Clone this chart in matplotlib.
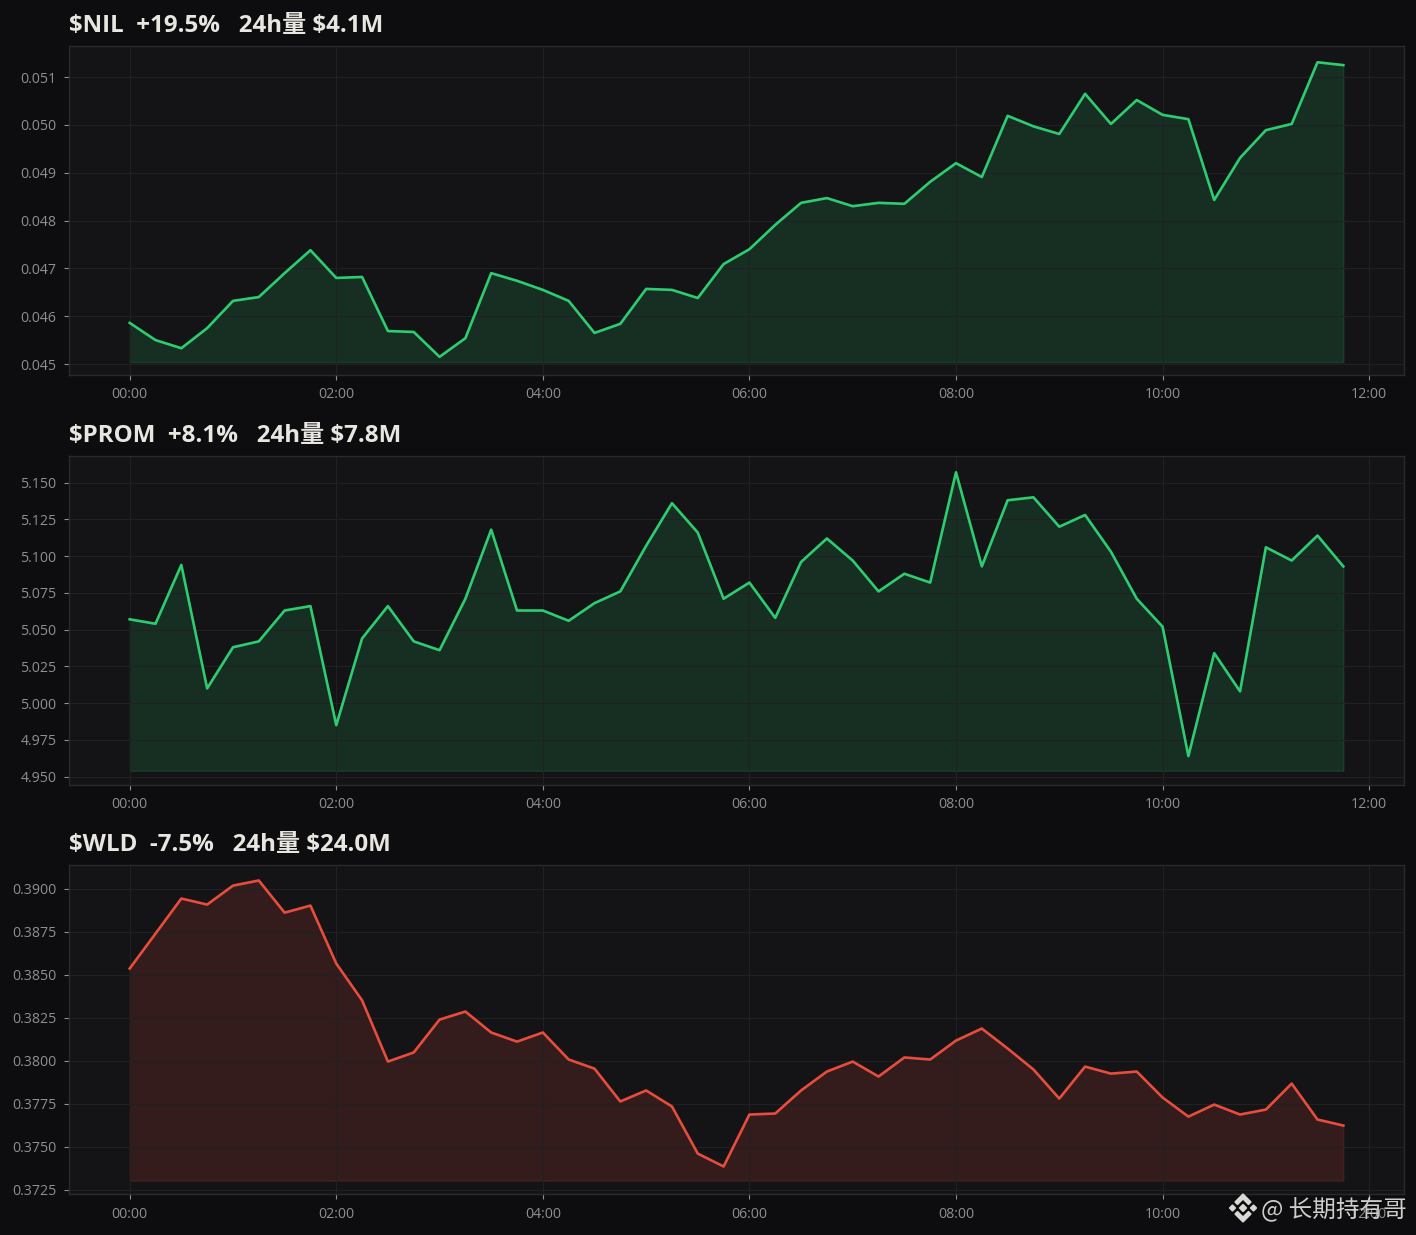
import matplotlib
matplotlib.use("Agg")
import matplotlib.pyplot as plt
from matplotlib.patches import Polygon

plt.rcParams['font.family'] = ['Open Sans', 'Noto Sans CJK SC', 'DejaVu Sans']

# 15 minute steps, 00:00 to 11:45
hours = [i * 0.25 for i in range(48)]
x_ticks = [0, 2, 4, 6, 8, 10, 12]
x_labels = ["00:00", "02:00", "04:00", "06:00", "08:00", "10:00", "12:00"]

nil_title = "$NIL  +19.5%   24h量 $4.1M"
nil_prices = [0.04586, 0.04550, 0.04533, 0.04575, 0.04632, 0.04640, 0.04690, 0.04738,
              0.04680, 0.04682, 0.04569, 0.04567, 0.04515, 0.04554, 0.04690, 0.04674,
              0.04655, 0.04632, 0.04565, 0.04584, 0.04657, 0.04655, 0.04638, 0.04709,
              0.04740, 0.04791, 0.04837, 0.04847, 0.04830, 0.04837, 0.04835, 0.04881,
              0.04920, 0.04891, 0.05019, 0.04997, 0.04981, 0.05065, 0.05002, 0.05052,
              0.05021, 0.05012, 0.04843, 0.04931, 0.04989, 0.05002, 0.05131, 0.05125]
nil_base = 0.04504
nil_ticks = [0.045, 0.046, 0.047, 0.048, 0.049, 0.050, 0.051]
nil_labels = ["0.045", "0.046", "0.047", "0.048", "0.049", "0.050", "0.051"]
nil_ylim = (0.04477, 0.05165)

prom_title = "$PROM  +8.1%   24h量 $7.8M"
prom_prices = [5.057, 5.054, 5.094, 5.010, 5.038, 5.042, 5.063, 5.066, 4.985, 5.044,
               5.066, 5.042, 5.036, 5.071, 5.118, 5.063, 5.063, 5.056, 5.068, 5.076,
               5.107, 5.136, 5.116, 5.071, 5.082, 5.058, 5.096, 5.112, 5.097, 5.076,
               5.088, 5.082, 5.157, 5.093, 5.138, 5.140, 5.120, 5.128, 5.103, 5.071,
               5.052, 4.964, 5.034, 5.008, 5.106, 5.097, 5.114, 5.093]
prom_base = 4.954
prom_ticks = [4.950, 4.975, 5.000, 5.025, 5.050, 5.075, 5.100, 5.125, 5.150]
prom_labels = ["4.950", "4.975", "5.000", "5.025", "5.050", "5.075", "5.100", "5.125", "5.150"]
prom_ylim = (4.9443, 5.1681)

wld_title = "$WLD  -7.5%   24h量 $24.0M"
wld_prices = [0.38535, 0.38738, 0.38942, 0.38907, 0.39017, 0.39047, 0.38860, 0.38901,
              0.38564, 0.38350, 0.37994, 0.38047, 0.38238, 0.38285, 0.38163, 0.38110,
              0.38163, 0.38006, 0.37953, 0.37762, 0.37826, 0.37733, 0.37459, 0.37384,
              0.37686, 0.37692, 0.37826, 0.37936, 0.37994, 0.37907, 0.38018, 0.38006,
              0.38116, 0.38186, 0.38070, 0.37948, 0.37779, 0.37965, 0.37924, 0.37936,
              0.37785, 0.37674, 0.37744, 0.37686, 0.37715, 0.37866, 0.37657, 0.37622]
wld_base = 0.37302
wld_ticks = [0.3725, 0.3750, 0.3775, 0.3800, 0.3825, 0.3850, 0.3875, 0.3900]
wld_labels = ["0.3725", "0.3750", "0.3775", "0.3800", "0.3825", "0.3850", "0.3875", "0.3900"]
wld_ylim = (0.37224, 0.39137)

GREEN = "#2ecc71"
RED = "#e74c3c"
FIG_BG = "#0d0d0f"
AX_BG = "#141416"
W, H = 1416, 1235


def draw_panel(top, title, prices, base, yticks, ylabels, ylim, color):
    ax = fig.add_axes([69 / W, 1 - (top + 329) / H, 1335 / W, 329 / H])
    ax.set_facecolor(AX_BG)
    ax.fill_between(hours, prices, base, color=color, alpha=0.15, linewidth=1)
    ax.plot(hours, prices, color=color, linewidth=1.9)
    ax.set_xlim(-0.5875, 12.3375)
    ax.set_ylim(*ylim)
    ax.set_xticks(x_ticks, x_labels)
    ax.set_yticks(yticks, ylabels)
    ax.tick_params(colors="#8f8f8f", labelsize=10.2, length=3.5, width=0.8, pad=5.5)
    ax.grid(True, color="#212124", linewidth=0.8)
    for spine in ax.spines.values():
        spine.set_color("#2a2a2c")
        spine.set_linewidth(1)
    # $ in the tickers is literal, keep mathtext off
    ax.text(0, 1.0 + 8 / 329, title, transform=ax.transAxes, color="#e8e6e0",
            fontsize=17.4, fontweight="bold", ha="left", va="bottom",
            family=['Open Sans', 'Noto Sans CJK SC'], parse_math=False)
    return ax


def draw_watermark():
    # pixel coordinate overlay for the logo and the signature
    over = fig.add_axes([0, 0, 1, 1])
    over.set_xlim(0, W)
    over.set_ylim(H, 0)
    over.axis("off")
    over.patch.set_alpha(0)
    cx, cy = 1243, 1208
    logo = "#d9d9d6"
    over.add_patch(Polygon([(cx, cy - 3.5), (cx + 3.5, cy), (cx, cy + 3.5), (cx - 3.5, cy)], color=logo))
    over.add_patch(Polygon([(cx - 13.5, cy), (cx - 10.5, cy - 3), (cx - 7.5, cy), (cx - 10.5, cy + 3)], color=logo))
    over.add_patch(Polygon([(cx + 13.5, cy), (cx + 10.5, cy - 3), (cx + 7.5, cy), (cx + 10.5, cy + 3)], color=logo))
    over.add_patch(Polygon([(cx, cy - 14), (cx + 8, cy - 6), (cx + 5.5, cy - 3.5), (cx, cy - 9),
                            (cx - 5.5, cy - 3.5), (cx - 8, cy - 6)], color=logo))
    over.add_patch(Polygon([(cx, cy + 14), (cx + 8, cy + 6), (cx + 5.5, cy + 3.5), (cx, cy + 9),
                            (cx - 5.5, cy + 3.5), (cx - 8, cy + 6)], color=logo))
    over.text(1407, 1210, "@ 长期持有哥", color="#d9d9d6", fontsize=17, ha="right", va="center",
              alpha=0.95, family=['Noto Sans CJK SC', 'DejaVu Sans'])


fig = plt.figure(figsize=(W / 100, H / 100), dpi=100, facecolor=FIG_BG)
draw_panel(46, nil_title, nil_prices, nil_base, nil_ticks, nil_labels, nil_ylim, GREEN)
draw_panel(456, prom_title, prom_prices, prom_base, prom_ticks, prom_labels, prom_ylim, GREEN)
draw_panel(865, wld_title, wld_prices, wld_base, wld_ticks, wld_labels, wld_ylim, RED)
draw_watermark()
fig.savefig("out.png", dpi=100, facecolor=FIG_BG)
